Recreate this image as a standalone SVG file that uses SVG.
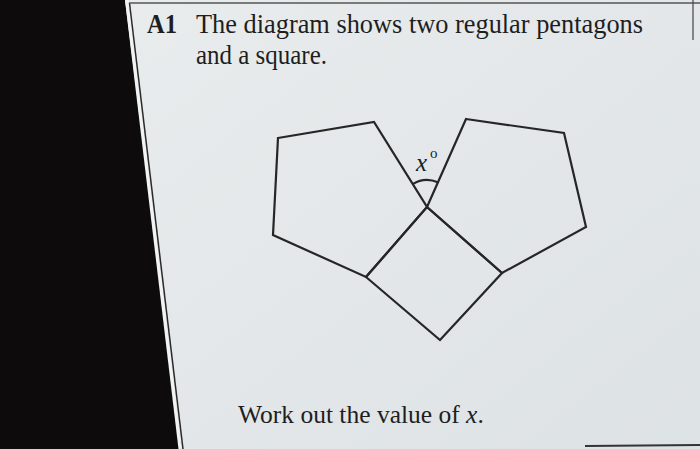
<svg xmlns="http://www.w3.org/2000/svg" width="700" height="449" viewBox="0 0 700 449">
  <defs>
    <linearGradient id="paper" x1="0" y1="0" x2="1" y2="1">
      <stop offset="0" stop-color="#e9eced"/>
      <stop offset="1" stop-color="#dde2e5"/>
    </linearGradient>
    <style>
      .shape { fill: none; stroke: #262626; stroke-width: 2.2; stroke-linejoin: miter; }
      .txt { font-family: "Liberation Serif", "Times New Roman", serif; fill: #1e1e1e; }
    </style>
  </defs>
  <rect x="0" y="0" width="700" height="449" fill="#0d0b0b"/>
  <polygon points="125,0 700,0 700,449 181,449" fill="url(#paper)"/>
  <line x1="126.5" y1="0" x2="180" y2="449" stroke="#f2f3f3" stroke-width="3"/>
  <line x1="129.5" y1="3" x2="183" y2="449" stroke="#2a2a2a" stroke-width="1.5"/>
  <line x1="129" y1="3" x2="700" y2="3" stroke="#555" stroke-width="1.5"/>
  <line x1="693" y1="0" x2="693" y2="40" stroke="#444" stroke-width="1.2"/>
  <line x1="585" y1="446" x2="700" y2="445" stroke="#333" stroke-width="2"/>

  <text class="txt" x="147" y="33" font-size="27" font-weight="bold" textLength="30" lengthAdjust="spacingAndGlyphs">A1</text>
  <text class="txt" x="196" y="33" font-size="27" textLength="447" lengthAdjust="spacingAndGlyphs">The diagram shows two regular pentagons</text>
  <text class="txt" x="196" y="64" font-size="27" textLength="131" lengthAdjust="spacingAndGlyphs">and a square.</text>

  <g id="pentagon-left">
    <polygon class="shape" points="278,138 374,122 427,207 366,277 273,235"/>
  </g>
  <g id="pentagon-right">
    <polygon class="shape" points="466,119 564,133 586,227 502,273 427,207"/>
  </g>
  <g id="square">
    <polygon class="shape" points="427,207 502,273 440,340 366,277"/>
  </g>
  <g id="angle">
    <path class="shape" d="M412.7,184.1 A27,27 0 0 1 437.9,182.3" stroke-width="1.8"/>
    <text class="txt" x="416" y="171" font-size="25" font-style="italic">x</text>
    <text class="txt" x="430" y="158" font-size="15">o</text>
  </g>

  <text class="txt" x="238" y="423" font-size="25.5">Work out the value of <tspan font-style="italic">x</tspan>.</text>
</svg>
